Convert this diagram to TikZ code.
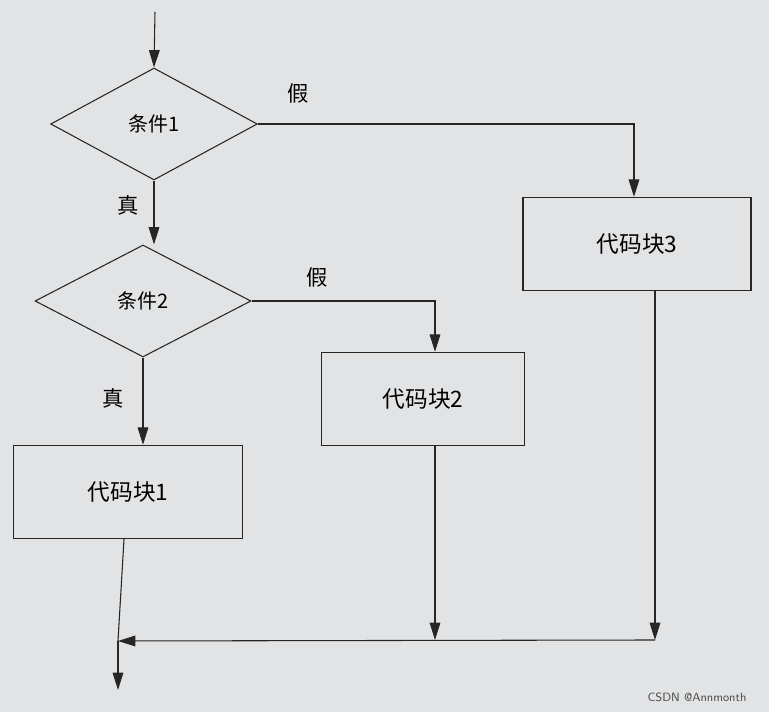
\documentclass[tikz,border=0pt]{standalone}
\usepackage{fontspec}
\setmainfont{Liberation Serif}
\newfontfamily\cjk{Noto Sans CJK SC}
\usetikzlibrary{shapes.geometric,arrows.meta}
\definecolor{paper}{HTML}{E2E3E5}
\tikzset{
  every picture/.style={x=0.75pt,y=-0.75pt},
  flow/.style={draw=black!85,line width=0.8pt},
  arr/.style={flow,-{Triangle[length=13pt,width=8pt]}},
  cond/.style={flow,diamond,aspect=1.85,minimum width=155pt,minimum height=84pt,inner sep=0pt,font=\cjk\fontsize{15}{17}\selectfont},
  blk/.style={flow,rectangle,minimum width=#1,minimum height=70pt,font=\cjk\fontsize{17}{19}\selectfont},
  lbl/.style={font=\cjk\fontsize{16}{18}\selectfont}
}
\begin{document}
\begin{tikzpicture}
\fill[paper] (0,0) rectangle (769,712);
\useasboundingbox (0,0) rectangle (769,712);
\coordinate (start) at (155,12);
\node[cond] (c1) at (154,124) {条件1};
\node[cond,minimum width=162pt] (c2) at (143,301) {条件2};
\node[blk=172pt] (b1) at (128,492) {代码块1};
\node[blk=152pt] (b2) at (423,399) {代码块2};
\node[blk=171pt] (b3) at (637,244) {代码块3};
\coordinate (m3) at (655,640);
\coordinate (m2) at (435,640);
\coordinate (m1) at (118,641);
\coordinate (end) at (118,690);
\draw[arr] (start) -- (c1.north);
\draw[arr] (c1.east) -| (b3.north -| 634,0);
\draw[arr] (c1.south) -- (c1.south |- c2.north);
\draw[arr] (c2.east) -| (b2.north -| 435,0);
\draw[arr] (c2.south) -- (c2.south |- b1.north);
\draw[flow] (b1.south -| 124,0) -- (m1);
\draw[arr] (m1) -- (end);
\draw[arr] (b2.south -| 435,0) -- (m2);
\draw[arr] (b3.south -| 655,0) -- (m3);
\draw[arr] (m3) -- (m1);
\node[lbl] (f1) at (298,93) {假};
\node[lbl] (t1) at (128,205) {真};
\node[lbl] (f2) at (317,277) {假};
\node[lbl] (t2) at (113,398) {真};
\node[font=\sffamily\fontsize{9}{10}\selectfont,text=black!70] (wm) at (697,697) {CSDN @Annmonth};
\end{tikzpicture}
\end{document}
